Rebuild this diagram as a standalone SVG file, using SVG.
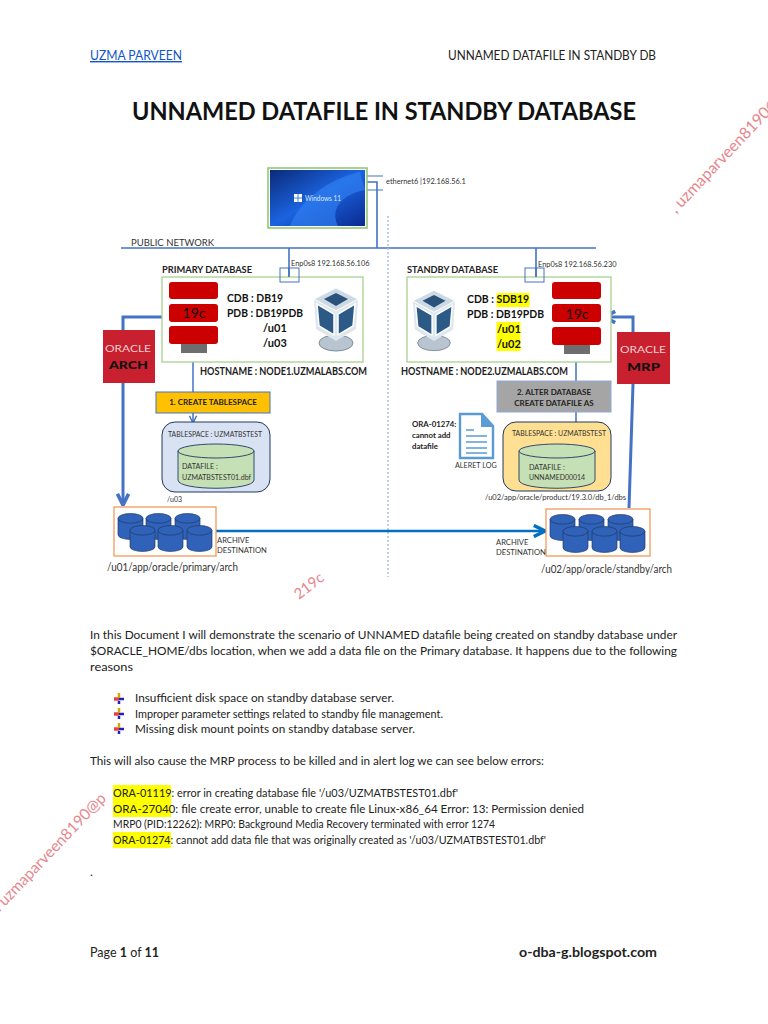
<svg xmlns="http://www.w3.org/2000/svg" width="768" height="1024" viewBox="0 0 768 1024">
<style>
text{font-family:"Lato","Open Sans","Liberation Sans",sans-serif;fill:#1a1a1a}
.body{font-size:12.3px;fill:#222}
.b{font-weight:700}
.dg{font-size:9.5px;font-weight:700;fill:#222}
.sm{font-size:7.6px;fill:#333}
.info{font-size:11px;font-weight:700;fill:#111}
.host{font-size:10.5px;font-weight:700;fill:#222}
.path{font-size:11.5px;fill:#333}
.wm{fill:#e8868c}
.red{fill:#cc0000}
.gray{fill:#6e6e6e}
.vm{fill:#fff;stroke:#a9d18e;stroke-width:1.3}
.thin{fill:none;stroke:#4472c4;stroke-width:1}
.net{fill:none;stroke:#4472c4;stroke-width:1.6}
.thick{fill:none;stroke:#4472c4;stroke-width:3}
.mid{fill:none;stroke:#4472c4;stroke-width:1.5}
.ora{fill:#c8202f}
.orat{font-size:9px;fill:#f3d0d0}
.orab{font-size:10.5px;font-weight:900;fill:#111}
.arch{fill:#fff;stroke:#f4914e;stroke-width:1.2}
.cylb{fill:#2f62b8;stroke:#1f3864;stroke-width:.7}
.cylg{fill:#c5e0b4;stroke:#1f3864;stroke-width:.9}
.hl{fill:#ffff00}
.ts{font-size:7.2px;fill:#333}
.big{font-size:14px;fill:#111}
</style>
<defs>
<marker id="ah" viewBox="0 0 10 10" refX="9" refY="5" markerWidth="9" markerHeight="9" markerUnits="userSpaceOnUse" orient="auto"><path d="M1 1L9 5L1 9" fill="none" stroke="#4472c4" stroke-width="1.6"/></marker>
<marker id="ahb" viewBox="0 0 10 10" refX="9" refY="5" markerWidth="14" markerHeight="14" markerUnits="userSpaceOnUse" orient="auto"><path d="M1 1L9 5L1 9" fill="none" stroke="#4472c4" stroke-width="2.6"/></marker>
<marker id="ahc" viewBox="0 0 10 10" refX="9" refY="5" markerWidth="14" markerHeight="14" markerUnits="userSpaceOnUse" orient="auto"><path d="M1 1L9 5L1 9" fill="none" stroke="#0070c0" stroke-width="2.4"/></marker>
<linearGradient id="win" x1="0" y1="0" x2="1" y2="1"><stop offset="0" stop-color="#0a2a78"/><stop offset=".5" stop-color="#1b63e0"/><stop offset="1" stop-color="#0a2a90"/></linearGradient>
<symbol id="cube" viewBox="0 0 48 66" overflow="visible">
<ellipse cx="24" cy="57" rx="17" ry="8" fill="#b8c4cf" stroke="#7c8d9e"/>
<path d="M24 2L46 13L44 43L24 55L4 43L2 13Z" fill="#dfe7ee"/>
<path d="M2 13L24 2L46 13L24 25Z" fill="#cdd9e4" stroke="#fff"/>
<path d="M12 13L24 7L36 13L24 20Z" fill="#2b527a"/>
<path d="M5 18L22 28L22 49L7 40Z" fill="#2b5a87" stroke="#fff" stroke-width="1.5"/>
<path d="M43 18L26 28L26 49L41 40Z" fill="#2b5a87" stroke="#fff" stroke-width="1.5"/>
</symbol>
<symbol id="cyl" viewBox="0 0 26 27" overflow="visible">
<path class="cylb" d="M0 5V22A13 5 0 0 0 26 22V5Z"/><ellipse class="cylb" cx="13" cy="5" rx="13" ry="5"/>
</symbol>
<clipPath id="wm1"><rect x="670" y="90" width="98" height="130"/></clipPath>
<clipPath id="wm2"><rect x="0" y="770" width="112" height="160"/></clipPath>
</defs>

<g id="watermark">
<g clip-path="url(#wm1)"><text class="wm" transform="translate(676,214) rotate(-46.5)" style="font-size:16px">, uzmaparveen8190@</text></g>
<g clip-path="url(#wm2)"><text class="wm" transform="translate(-4,916) rotate(-46.5)" style="font-size:15.5px">n uzmaparveen8190@p</text></g>
<text class="wm" transform="translate(299,600) rotate(-38)" style="font-size:15px">219c</text>
</g>

<g id="header">
<text x="90" y="60" style="font-size:14px;fill:#1155cc;text-decoration:underline" textLength="92" lengthAdjust="spacingAndGlyphs">UZMA PARVEEN</text>
<text x="448" y="60" style="font-size:13.5px;fill:#222" textLength="208" lengthAdjust="spacingAndGlyphs">UNNAMED DATAFILE IN STANDBY DB</text>
</g>
<text id="title" x="132" y="120" class="b" style="font-size:24px;fill:#111" textLength="504" lengthAdjust="spacingAndGlyphs">UNNAMED DATAFILE IN STANDBY DATABASE</text>

<g id="connectors">
<line class="net" x1="121" y1="248" x2="596" y2="248"/>
<path class="net" d="M367 182H377V248"/>
<path class="thin" d="M367 176H383M367 190H383"/>
<line x1="388" y1="216" x2="388" y2="577" stroke="#a9c1e8" stroke-width="1.5" stroke-dasharray="2 2"/>
<line class="net" x1="289" y1="248" x2="289" y2="277"/>
<line class="net" x1="536" y1="248" x2="536" y2="277"/>
<path class="thick" d="M169 317H123V505" marker-end="url(#ahb)"/>
<line class="mid" x1="193" y1="392" x2="193" y2="354" marker-end="url(#ah)"/>
<line class="mid" x1="193" y1="413" x2="193" y2="423" marker-end="url(#ah)"/>
<path class="thick" d="M629 508L633 384V317H604" marker-end="url(#ahb)"/>
<line class="mid" x1="576" y1="381" x2="576" y2="355" marker-end="url(#ah)"/>
<line class="mid" x1="576" y1="412" x2="576" y2="422"/>
<line x1="216" y1="531" x2="545" y2="531" stroke="#0070c0" stroke-width="2.4" marker-end="url(#ahc)"/>
</g>

<g id="windows-host">
<rect x="268" y="168" width="99" height="60" fill="#fff" stroke="#8dc26f" stroke-width="1.5"/>
<rect x="270" y="170" width="95" height="56" fill="url(#win)"/>
<path d="M290 226C300 200 330 178 360 172L365 190C340 195 330 210 338 226Z" fill="#2f7df0" opacity=".7"/>
<rect x="294" y="194" width="8" height="8" fill="#fff"/>
<line x1="298" y1="194" x2="298" y2="202" stroke="#1b63e0" stroke-width=".8"/><line x1="294" y1="198" x2="302" y2="198" stroke="#1b63e0" stroke-width=".8"/>
<text x="305" y="201" style="font-size:8px;fill:#dfe9ff" textLength="36" lengthAdjust="spacingAndGlyphs">Windows 11</text>
<text x="386" y="184" style="font-size:7.4px;fill:#333">ethernet6 |192.168.56.1</text>
</g>
<text id="public-network" x="131" y="246" style="font-size:9.5px;fill:#333">PUBLIC NETWORK</text>

<g id="primary-db">
<text class="dg" x="162" y="273" textLength="90" lengthAdjust="spacingAndGlyphs">PRIMARY DATABASE</text>
<rect class="vm" x="162" y="277" width="201" height="85"/>
<rect class="thin" x="280" y="268" width="19" height="14"/><line x1="289" y1="268" x2="289" y2="277" stroke="#4472c4" stroke-width="1.5"/>
<rect class="red" x="169" y="282" width="49" height="17" rx="3"/>
<rect class="red" x="169" y="304" width="49" height="18" rx="3"/>
<rect class="red" x="169" y="326" width="49" height="18" rx="3"/>
<rect class="gray" x="181" y="344" width="26" height="9"/>
<text class="big" x="194" y="318" text-anchor="middle">19c</text>
<text class="info" x="227" y="302" textLength="56" lengthAdjust="spacingAndGlyphs">CDB : DB19</text>
<text class="info" x="227" y="317" textLength="76" lengthAdjust="spacingAndGlyphs">PDB : DB19PDB</text>
<text class="info" x="263" y="332">/u01</text>
<text class="info" x="263" y="347">/u03</text>
<use href="#cube" x="312" y="286" width="48" height="66"/>
<text class="host" x="200" y="375" textLength="167" lengthAdjust="spacingAndGlyphs">HOSTNAME : NODE1.UZMALABS.COM</text>
<text x="291" y="266" style="font-size:7.4px;fill:#333">Enp0s8  192.168.56.106</text>
</g>

<g id="standby-db">
<text class="dg" x="407" y="273" textLength="91" lengthAdjust="spacingAndGlyphs">STANDBY DATABASE</text>
<rect class="vm" x="407" y="277" width="204" height="85"/>
<rect class="thin" x="525" y="268" width="19" height="14"/><line x1="536" y1="268" x2="536" y2="277" stroke="#4472c4" stroke-width="1.5"/>
<rect class="red" x="552" y="282" width="49" height="17" rx="3"/>
<rect class="red" x="552" y="304" width="49" height="18" rx="3"/>
<rect class="red" x="552" y="327" width="49" height="18" rx="3"/>
<rect class="gray" x="564" y="345" width="26" height="9"/>
<text class="big" x="577" y="319" text-anchor="middle">19c</text>
<rect class="hl" x="496.500" y="293" width="33" height="14"/>
<rect class="hl" x="496.500" y="322" width="24" height="29"/>
<text class="info" x="467" y="303" textLength="62" lengthAdjust="spacingAndGlyphs">CDB : SDB19</text>
<text class="info" x="467" y="318" textLength="77" lengthAdjust="spacingAndGlyphs">PDB : DB19PDB</text>
<text class="info" x="497" y="333">/u01</text>
<text class="info" x="497" y="348">/u02</text>
<use href="#cube" x="411" y="288" width="46" height="64"/>
<text class="host" x="401" y="375" textLength="167" lengthAdjust="spacingAndGlyphs">HOSTNAME : NODE2.UZMALABS.COM</text>
<text x="538" y="267" style="font-size:7.4px;fill:#333">Enp0s8 192.168.56.230</text>
</g>

<g id="oracle-arch">
<rect class="ora" x="103" y="330" width="52" height="53"/>
<text class="orat" x="105" y="352" textLength="46" lengthAdjust="spacingAndGlyphs">ORACLE</text>
<text class="orab" x="109" y="369" textLength="39" lengthAdjust="spacingAndGlyphs">ARCH</text>
</g>
<g id="oracle-mrp">
<rect class="ora" x="617" y="332" width="53" height="52"/>
<text class="orat" x="620" y="353" textLength="46" lengthAdjust="spacingAndGlyphs">ORACLE</text>
<text class="orab" x="627" y="371" textLength="33" lengthAdjust="spacingAndGlyphs">MRP</text>
</g>

<g id="step-1">
<rect x="156" y="392" width="114" height="21" fill="#ffc000" stroke="#4472c4"/>
<text x="213" y="405" text-anchor="middle" class="b" style="font-size:8px;fill:#222">1. CREATE TABLESPACE</text>
</g>
<g id="tablespace-primary">
<rect x="162" y="422" width="108" height="70" rx="13" fill="#d9e2f3" stroke="#1f3864"/>
<text class="ts" x="168" y="437" textLength="94" lengthAdjust="spacingAndGlyphs">TABLESPACE : UZMATBSTEST</text>
<path class="cylg" d="M178 451V480C178 491 254 491 254 480V451Z"/><ellipse class="cylg" cx="216" cy="451" rx="38" ry="7"/>
<text class="ts" x="182" y="469">DATAFILE :</text>
<text class="ts" x="182" y="480" textLength="69" lengthAdjust="spacingAndGlyphs">UZMATBSTEST01.dbf</text>
<text x="167" y="502" style="font-size:7px;fill:#333">/u03</text>
</g>

<g id="step-2">
<rect x="497" y="381" width="114" height="31" fill="#a5a5a5" stroke="#8faadc"/>
<text x="554" y="395" text-anchor="middle" class="b" style="font-size:8px;fill:#222">2. ALTER DATABASE</text>
<text x="554" y="406" text-anchor="middle" class="b" style="font-size:8px;fill:#222">CREATE DATAFILE AS</text>
</g>
<g id="tablespace-standby">
<rect x="503" y="422" width="108" height="69" rx="13" fill="#ffdf91" stroke="#1f3864"/>
<text class="ts" x="512" y="436" textLength="94" lengthAdjust="spacingAndGlyphs">TABLESPACE : UZMATBSTEST</text>
<path class="cylg" d="M519 451V480C519 491 595 491 595 480V451Z"/><ellipse class="cylg" cx="557" cy="451" rx="38" ry="7"/>
<text class="ts" x="529" y="470">DATAFILE :</text>
<text class="ts" x="529" y="480" textLength="56" lengthAdjust="spacingAndGlyphs">UNNAMED00014</text>
<text x="485" y="500" style="font-size:7.4px;fill:#333" textLength="141" lengthAdjust="spacingAndGlyphs">/u02/app/oracle/product/19.3.0/db_1/dbs</text>
</g>

<g id="alert-log">
<path d="M460 414H482L493 426V458H460Z" fill="#fff" stroke="#5b9bd5" stroke-width="2.4"/>
<path d="M481 414V427H493Z" fill="#5b9bd5"/>
<path d="M466 430H474M466 436H487M466 442H487M466 448H487M466 453H487" stroke="#5b9bd5" stroke-width="1.4"/>
<text x="455" y="468" style="font-size:7.2px;fill:#333">ALERET LOG</text>
<text x="412" y="427" class="b" style="font-size:7.8px;fill:#222">ORA-01274:</text>
<text x="412" y="438" class="b" style="font-size:7.8px;fill:#222">cannot add</text>
<text x="412" y="449" class="b" style="font-size:7.8px;fill:#222">datafile</text>
</g>

<g id="archive-primary">
<rect class="arch" x="114" y="507" width="102" height="49"/>
<use href="#cyl" x="118" y="513" width="25" height="27"/><use href="#cyl" x="146" y="513" width="25" height="27"/><use href="#cyl" x="175" y="513" width="25" height="27"/>
<use href="#cyl" x="130" y="525" width="25" height="27"/><use href="#cyl" x="158" y="525" width="25" height="27"/><use href="#cyl" x="187" y="525" width="25" height="27"/>
<text class="sm" x="217" y="543">ARCHIVE</text>
<text class="sm" x="217" y="553">DESTINATION</text>
<text class="path" x="107" y="571" textLength="131" lengthAdjust="spacingAndGlyphs">/u01/app/oracle/primary/arch</text>
</g>
<g id="archive-standby">
<rect class="arch" x="546" y="509" width="104" height="47"/>
<use href="#cyl" x="550" y="514" width="25" height="27"/><use href="#cyl" x="579" y="514" width="25" height="27"/><use href="#cyl" x="608" y="514" width="25" height="27"/>
<use href="#cyl" x="563" y="526" width="25" height="27"/><use href="#cyl" x="592" y="526" width="25" height="27"/><use href="#cyl" x="620" y="526" width="25" height="27"/>
<text class="sm" x="496" y="545">ARCHIVE</text>
<text class="sm" x="496" y="555">DESTINATION</text>
<text class="path" x="541" y="573" textLength="131" lengthAdjust="spacingAndGlyphs">/u02/app/oracle/standby/arch</text>
</g>

<g id="body-text">
<text class="body" x="90" y="639" textLength="587" lengthAdjust="spacingAndGlyphs">In this Document I will demonstrate the scenario of UNNAMED datafile being created on standby database under</text>
<text class="body" x="90" y="655" textLength="587" lengthAdjust="spacingAndGlyphs">$ORACLE_HOME/dbs location, when we add a data file on the Primary database. It happens due to the following</text>
<text class="body" x="90" y="671" textLength="43" lengthAdjust="spacingAndGlyphs">reasons</text>
<text class="body" x="135" y="702" textLength="259" lengthAdjust="spacingAndGlyphs">Insufficient disk space on standby database server.</text>
<text class="body" x="135" y="718" textLength="308" lengthAdjust="spacingAndGlyphs">Improper parameter settings related to standby file management.</text>
<text class="body" x="135" y="733" textLength="280" lengthAdjust="spacingAndGlyphs">Missing disk mount points on standby database server.</text>
<text class="body" x="90" y="765" textLength="454" lengthAdjust="spacingAndGlyphs">This will also cause the MRP process to be killed and in alert log we can see below errors:</text>
<rect class="hl" x="113" y="785" width="58" height="16"/>
<rect class="hl" x="113" y="801" width="58" height="16"/>
<rect class="hl" x="113" y="832" width="58" height="16"/>
<text class="body" x="113" y="797" textLength="345" lengthAdjust="spacingAndGlyphs">ORA-01119: error in creating database file '/u03/UZMATBSTEST01.dbf'</text>
<text class="body" x="113" y="813" textLength="471" lengthAdjust="spacingAndGlyphs">ORA-27040: file create error, unable to create file Linux-x86_64 Error: 13: Permission denied</text>
<text class="body" x="113" y="828" textLength="382" lengthAdjust="spacingAndGlyphs">MRP0 (PID:12262): MRP0: Background Media Recovery terminated with error 1274</text>
<text class="body" x="113" y="844" textLength="433" lengthAdjust="spacingAndGlyphs">ORA-01274: cannot add data file that was originally created as '/u03/UZMATBSTEST01.dbf'</text>
<text class="body" x="90" y="876">.</text>
</g>

<g id="bullets">
<path d="M114 699h5" stroke="#e64040" stroke-width="3.500"/><path d="M119 699h5M119 701v3" stroke="#2020c0" stroke-width="2.500"/><path d="M119 693v5" stroke="#d9a400" stroke-width="2.500"/>
<path d="M114 714h5" stroke="#e64040" stroke-width="3.500"/><path d="M119 714h5M119 716v3" stroke="#2020c0" stroke-width="2.500"/><path d="M119 708v5" stroke="#d9a400" stroke-width="2.500"/>
<path d="M114 729h5" stroke="#e64040" stroke-width="3.500"/><path d="M119 729h5M119 731v3" stroke="#2020c0" stroke-width="2.500"/><path d="M119 723v5" stroke="#d9a400" stroke-width="2.500"/>
</g>

<g id="footer">
<text x="90" y="957" style="font-size:12.5px;fill:#222" textLength="69" lengthAdjust="spacingAndGlyphs">Page <tspan class="b">1</tspan> of <tspan class="b">11</tspan></text>
<text x="519" y="957" class="b" style="font-size:14px;fill:#222" textLength="138" lengthAdjust="spacingAndGlyphs">o-dba-g.blogspot.com</text>
</g>
</svg>
